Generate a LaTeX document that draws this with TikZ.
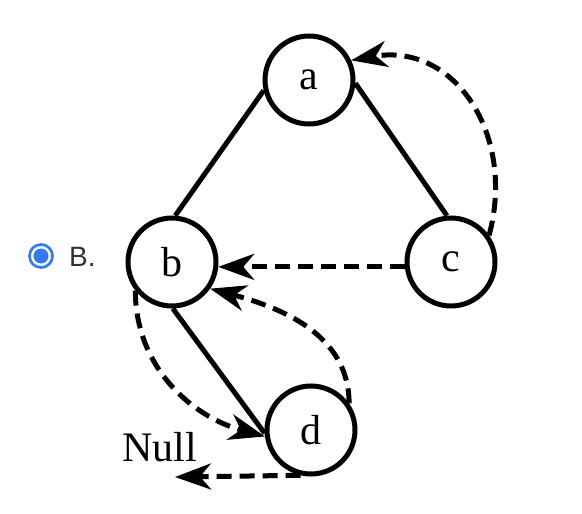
\documentclass[tikz,border=0pt]{standalone}
\usepackage{fontspec}
\setmainfont{Liberation Serif}
\newfontfamily\optfont{Liberation Sans}
\usetikzlibrary{arrows.meta}
\definecolor{radioblue}{RGB}{52,120,246}
\definecolor{labelgrey}{RGB}{51,51,51}

\begin{document}
\begin{tikzpicture}[x=1pt, y=-1pt,
	letter/.style={font=\fontsize{42}{42}\selectfont},
	vertex/.style={letter, draw, circle, line width=5pt, minimum size=88pt, inner sep=0pt},
	edge/.style={line width=5pt},
	link/.style={line width=5pt, dash pattern=on 15pt off 8pt, -{Stealth[length=36pt, width=26pt, inset=11pt]}}]
		%%%%% START %%%%%
		
		\useasboundingbox (0, 0) rectangle (582, 514);
		
		\node[circle, draw=radioblue, line width=2.7pt, minimum size=23pt, inner sep=0pt] (radio) at (41, 256) {};
		\node[circle, fill=radioblue, minimum size=15pt, inner sep=0pt] (dot) at (radio) {};
		\node[anchor=west, inner sep=0pt, text=labelgrey, font=\optfont\fontsize{28}{28}\selectfont] (opt) at (69, 257) {B.};
		
		\node[vertex] (a) at (309, 80) {a};
		\node[vertex] (b) at (172, 262) {b};
		\node[vertex] (c) at (451, 262) {c};
		\node[vertex] (d) at (311, 430) {d};
		
		\draw[edge] (a.193) -- (b.86);
		\draw[edge] (a.-4) -- (c.95);
		\draw[edge] (b.-89) -- (d.184);
		
		\draw[link] (c.35) to[out=75, in=10, looseness=1.2] (a.25);
		\draw[link] (c.186) -- (b.-6);
		\draw[link] (d.35) to[out=90, in=-15] (b.-35);
		\draw[link] (b.218) to[out=-90, in=165] (d.188);
		
		\node[letter, inner sep=0pt] (null) at (160, 447) {Null};
		\coordinate (nullend) at (175, 477);
		\draw[link] (d.-103) -- (nullend);
		
		%%%%% END %%%%%
	\end{tikzpicture}
\end{document}
